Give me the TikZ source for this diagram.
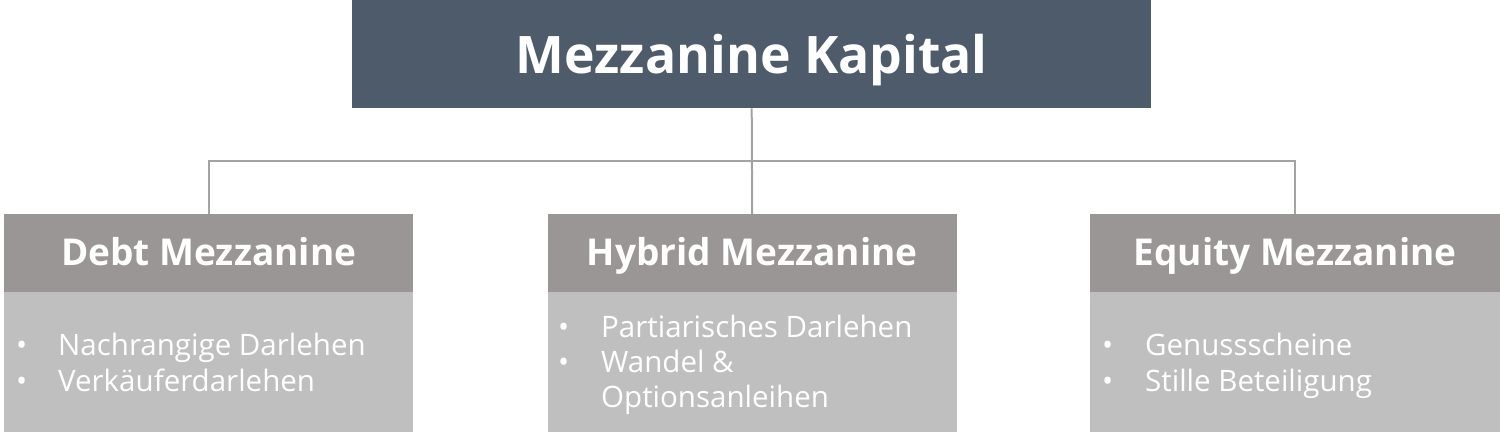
\documentclass[tikz,border=0pt]{standalone}
\usepackage{fontspec}
\setmainfont{Open Sans}
\definecolor{titlecol}{HTML}{4E5B6A}
\definecolor{headcol}{HTML}{9A9695}
\definecolor{bodycol}{HTML}{BFBFBF}
\definecolor{linecol}{HTML}{A3A3A3}
\tikzset{
  titlebox/.style={fill=titlecol, text=white, inner sep=0pt, anchor=north west,
    font=\fontsize{51.7}{56}\selectfont\bfseries, text height=38pt, text depth=0pt},
  headbox/.style={fill=headcol, text=white, inner sep=0pt, anchor=north west,
    minimum width=409pt, minimum height=78pt,
    font=\fontsize{37}{40}\selectfont\bfseries, text height=24pt, text depth=0pt},
  bodybox/.style={fill=bodycol, inner sep=0pt, anchor=north west,
    minimum width=409pt, minimum height=140pt},
  itemtext/.style={text=white, inner sep=0pt, anchor=base west,
    font=\fontsize{29.5}{32}\selectfont},
  conn/.style={draw=linecol, line width=2pt}
}
\begin{document}
\begin{tikzpicture}[x=1pt,y=-1pt]
\useasboundingbox (0,0) rectangle (1500,434);
\node[titlebox, minimum width=799pt, minimum height=108pt] (top) at (352,0) {Mezzanine Kapital};
% headers
\node[headbox] (dh) at (4,214) {Debt Mezzanine};
\node[headbox] (hh) at (547.5,214) {Hybrid Mezzanine};
\node[headbox, minimum width=410pt] (eh) at (1090,214) {Equity Mezzanine};
% bodies
\node[bodybox] (db) at (4,292) {};
\node[bodybox] (hb) at (547.5,292) {};
\node[bodybox, minimum width=410pt] (eb) at (1090,292) {};
% items: debt
\node[itemtext] (d1b) at (16,355) {•};
\node[itemtext] (d1) at (58,355) {Nachrangige Darlehen};
\node[itemtext] (d2b) at (16,391) {•};
\node[itemtext] (d2) at (58,391) {Verkäuferdarlehen};
% items: hybrid
\node[itemtext] (h1b) at (558,337) {•};
\node[itemtext] (h1) at (601,337) {Partiarisches Darlehen};
\node[itemtext] (h2b) at (558,372) {•};
\node[itemtext] (h2) at (601,372) {Wandel \&};
\node[itemtext] (h3) at (601,407) {Optionsanleihen};
% items: equity
\node[itemtext] (e1b) at (1102,355) {•};
\node[itemtext] (e1) at (1145,355) {Genussscheine};
\node[itemtext] (e2b) at (1102,391) {•};
\node[itemtext] (e2) at (1145,391) {Stille Beteiligung};
% connectors
\coordinate (bus) at (752,161);
\draw[conn] (top.south) -- (hh.north);
\draw[conn] (dh.north) |- (bus) -| (eh.north);
\end{tikzpicture}
\end{document}
